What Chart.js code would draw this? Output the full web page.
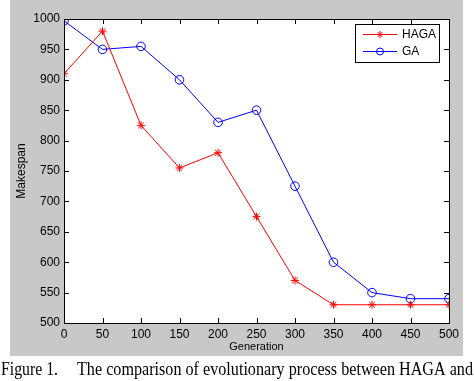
<!DOCTYPE html>
<html><head><meta charset="utf-8">
<script src="https://cdn.jsdelivr.net/npm/chart.js@4/dist/chart.umd.min.js"></script>
<style>html,body{margin:0;padding:0;background:#fff;}canvas{display:block;}</style>
</head><body>
<canvas id="c" width="474" height="381"></canvas>
<script>
const generations = [0, 50, 100, 150, 200, 250, 300, 350, 400, 450, 500];
const hagaValues = [910, 980, 825, 755, 780, 675, 570, 530, 530, 530, 530];
const gaValues = [997, 950, 955, 900, 830, 850, 725, 600, 550, 540, 540];
const seriesNames = ['HAGA', 'GA'];
const xTitle = 'Generation';
const yTitle = 'Makespan';
const captionLabel = 'Figure 1.';
const captionText = 'The comparison of evolutionary process between HAGA and';

const toPts = (xs, ys) => xs.map((x, i) => ({x, y: ys[i]}));
const FONT = '"Liberation Sans", Arial, sans-serif';

function fitText(c, txt, x, y, w) {
  const m = c.measureText(txt).width;
  c.save();
  c.translate(x, y);
  c.scale(w / m, 1);
  c.fillText(txt, 0, 0);
  c.restore();
}

const decor = {
  id: 'decor',
  beforeDraw(chart) {
    const c = chart.ctx;
    c.save();
    c.fillStyle = '#c8c8c8';
    c.fillRect(10, 0, 453, 356);
    const a = chart.chartArea;
    c.fillStyle = '#ffffff';
    c.fillRect(a.left, a.top, a.right - a.left, a.bottom - a.top);
    c.restore();
  },
  afterDraw(chart) {
    const c = chart.ctx, a = chart.chartArea;
    const xs = chart.scales.x, ys = chart.scales.y;
    c.save();
    c.strokeStyle = '#000'; c.lineWidth = 1;
    c.strokeRect(Math.round(a.left) + 0.5, Math.round(a.top) + 0.5, Math.round(a.right - a.left), Math.round(a.bottom - a.top));
    c.beginPath();
    xs.ticks.forEach(t => {
      const px = Math.round(xs.getPixelForValue(t.value)) + 0.5;
      c.moveTo(px, a.bottom); c.lineTo(px, a.bottom - 5);
      c.moveTo(px, a.top); c.lineTo(px, a.top + 5);
    });
    ys.ticks.forEach(t => {
      const py = Math.round(ys.getPixelForValue(t.value)) + 0.5;
      c.moveTo(a.left, py); c.lineTo(a.left + 5, py);
      c.moveTo(a.right, py); c.lineTo(a.right - 5, py);
    });
    c.stroke();
    // axis titles
    c.fillStyle = '#000';
    c.font = '11px ' + FONT;
    c.textAlign = 'center'; c.textBaseline = 'middle';
    c.fillText(xTitle, (a.left + a.right) / 2, 347);
    c.save();
    c.translate(22, (a.top + a.bottom) / 2);
    c.rotate(-Math.PI / 2);
    c.font = '12px ' + FONT;
    c.fillText(yTitle, 0, 0);
    c.restore();
    // legend
    const lx = 355, ly = 24, lw = 84, lh = 38;
    c.fillStyle = '#fff';
    c.fillRect(lx, ly, lw, lh);
    c.strokeStyle = '#000';
    c.strokeRect(lx + 0.5, ly + 0.5, lw, lh);
    chart.data.datasets.forEach((ds, i) => {
      const y = ly + 10.5 + i * 17;
      c.strokeStyle = ds.borderColor; c.lineWidth = 1.2;
      c.beginPath(); c.moveTo(lx + 8, y); c.lineTo(lx + 42, y); c.stroke();
      const mx = lx + 25;
      c.lineWidth = 1;
      c.beginPath();
      if (ds.pointStyle === 'circle') {
        c.arc(mx, y, 3.5, 0, Math.PI * 2);
      } else {
        const r = 3.5;
        c.moveTo(mx - r, y); c.lineTo(mx + r, y);
        c.moveTo(mx, y - r); c.lineTo(mx, y + r);
        c.moveTo(mx - r * 0.7, y - r * 0.7); c.lineTo(mx + r * 0.7, y + r * 0.7);
        c.moveTo(mx - r * 0.7, y + r * 0.7); c.lineTo(mx + r * 0.7, y - r * 0.7);
      }
      c.stroke();
      c.fillStyle = '#000';
      c.font = '12px ' + FONT;
      c.textAlign = 'left'; c.textBaseline = 'middle';
      c.fillText(ds.label, lx + 47, y + 0.5);
    });
    // caption
    c.fillStyle = '#000';
    c.font = '19px "Liberation Serif", "Times New Roman", serif';
    c.textAlign = 'left'; c.textBaseline = 'alphabetic';
    fitText(c, captionLabel, 1, 375, 57);
    fitText(c, captionText, 77, 375, 396);
    c.restore();
  }
};

new Chart(document.getElementById('c'), {
  type: 'line',
  data: {
    datasets: [
      {label: seriesNames[0], data: toPts(generations, hagaValues), borderColor: '#ff0000', backgroundColor: '#ff0000',
       borderWidth: 1, pointStyle: 'star', pointRadius: 4, pointBorderWidth: 1, pointBorderColor: '#ff0000', tension: 0},
      {label: seriesNames[1], data: toPts(generations, gaValues), borderColor: '#0000ff', backgroundColor: 'rgba(0,0,0,0)',
       borderWidth: 1, pointStyle: 'circle', pointRadius: 4.3, pointBorderWidth: 1, pointBorderColor: '#0000ff', tension: 0}
    ]
  },
  options: {
    responsive: false, animation: false, devicePixelRatio: 1,
    layout: {padding: {top: 19, right: 25, left: 0, bottom: 0}},
    plugins: {legend: {display: false}, tooltip: {enabled: false}},
    scales: {
      x: {type: 'linear', min: 0, max: 500,
          ticks: {stepSize: 50, color: '#000', padding: 4, maxRotation: 0, font: {family: FONT, size: 12},
                  callback: v => String(v)},
          grid: {display: false, drawTicks: false}, border: {display: false},
          afterFit: s => { s.height = 58; }},
      y: {type: 'linear', min: 500, max: 1000,
          ticks: {stepSize: 50, color: '#000', padding: 4, font: {family: FONT, size: 12},
                  callback: v => String(v)},
          grid: {display: false, drawTicks: false}, border: {display: false},
          afterFit: s => { s.width = 64; }}
    }
  },
  plugins: [decor]
});
</script>
</body></html>
